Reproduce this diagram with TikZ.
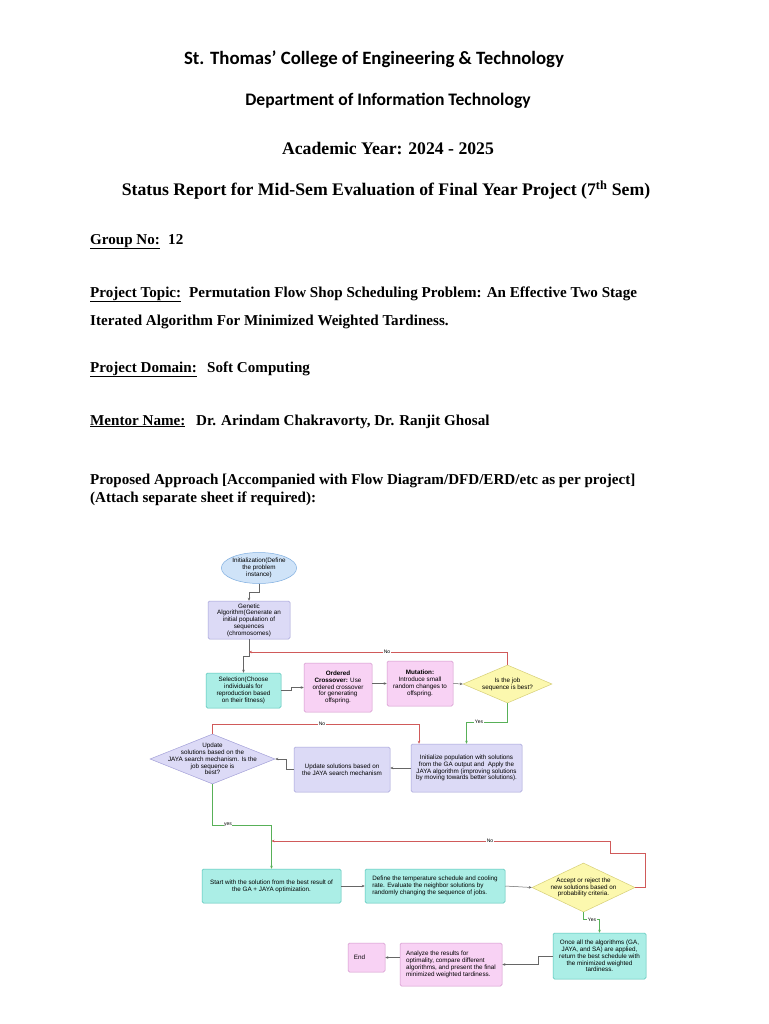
\documentclass[tikz,border=0pt]{standalone}
\usepackage{fontspec}
\setmainfont{Liberation Serif}
\newfontfamily\headfont{Carlito}
\newfontfamily\fcfont{Liberation Sans}
\usetikzlibrary{shapes.geometric,arrows.meta,calc}
\definecolor{bluefill}{HTML}{CFE3F8}
\definecolor{blueline}{HTML}{7FAEE0}
\definecolor{lavfill}{HTML}{DCDAF6}
\definecolor{lavline}{HTML}{A3A0D8}
\definecolor{tealfill}{HTML}{ABEEE6}
\definecolor{tealline}{HTML}{52C2B6}
\definecolor{pinkfill}{HTML}{F8D2F4}
\definecolor{pinkline}{HTML}{D394CB}
\definecolor{yelfill}{HTML}{FCF8AE}
\definecolor{yelline}{HTML}{D6CF78}
\definecolor{noline}{HTML}{D05A5A}
\definecolor{yesline}{HTML}{58B058}
\definecolor{grayline}{HTML}{666666}
\begin{document}
\begin{tikzpicture}[x=1pt,y=-1pt,
  head/.style={anchor=base, inner sep=0pt, font=\headfont\bfseries\fontsize{18}{21}\selectfont},
  title/.style={anchor=base, inner sep=0pt, font=\bfseries\fontsize{17.7}{20}\selectfont},
  body/.style={anchor=base west, inner sep=0pt, font=\bfseries\fontsize{15.1}{18}\selectfont},
  fc/.style={font=\fcfont\fontsize{6.3}{6.8}\selectfont, align=center, inner sep=1pt},
  box/.style={fc, draw, rounded corners=1.5pt, line width=0.5pt},
  lavbox/.style={box, fill=lavfill, draw=lavline},
  tealbox/.style={box, fill=tealfill, draw=tealline},
  pinkbox/.style={box, fill=pinkfill, draw=pinkline},
  decision/.style={diamond, draw=yelline, fill=yelfill, line width=0.5pt, inner sep=0pt},
  arr/.style={-{Stealth[length=3pt,width=2.6pt]}, line width=0.5pt},
  grayarr/.style={arr, draw=grayline},
  noarr/.style={arr, draw=noline},
  yesarr/.style={arr, draw=yesline},
  lab/.style={font=\fcfont\fontsize{5}{6}\selectfont, fill=white, inner sep=0.5pt}
]
\useasboundingbox[fill=white] (0,0) rectangle (768,1024);

% ---------- header ----------
\node[head, font=\headfont\bfseries\fontsize{18.8}{21}\selectfont] (t1) at (374,65) {St. Thomas’ College of Engineering \& Technology};
\node[head, font=\headfont\bfseries\fontsize{17.6}{21}\selectfont] (t2) at (388,106) {Department of Information Technology};
\node[title] (t3) at (388,155) {Academic Year: 2024 - 2025};
\node[title] (t4) at (386,196) {Status Report for Mid-Sem Evaluation of Final Year Project (7\textsuperscript{th} Sem)};

\node[body] (g1) at (90,244) {\underline{Group No:}};
\node[body] (g2) at (168,244) {12};
\node[body] (p1) at (90,297) {\underline{Project Topic:}};
\node[body] (p2) at (189,297) {Permutation Flow Shop Scheduling Problem: An Effective Two Stage};
\node[body] (p3) at (90,325) {Iterated Algorithm For Minimized Weighted Tardiness.};
\node[body] (d1) at (90,372) {\underline{Project Domain:}};
\node[body] (d2) at (207,372) {Soft Computing};
\node[body] (m1) at (90,425) {\underline{Mentor Name:}};
\node[body] (m2) at (196,425) {Dr. Arindam Chakravorty, Dr. Ranjit Ghosal};
\node[body] (a1) at (90,484) {Proposed Approach [Accompanied with Flow Diagram/DFD/ERD/etc as per project]};
\node[body] (a2) at (90,502) {(Attach separate sheet if required):};

% ---------- flowchart ----------
\node[fc, ellipse, draw=blueline, fill=bluefill, line width=0.5pt, minimum width=68pt, minimum height=31pt, inner sep=0pt] (init) at (259,568)
  {Initialization(Define\\the problem\\instance)};
\node[lavbox, minimum width=82pt, minimum height=38pt] (ga) at (249,620)
  {Genetic\\Algorithm(Generate an\\initial population of\\sequences\\(chromosomes)};
\node[tealbox, minimum width=75pt, minimum height=35pt] (sel) at (243.5,690.5)
  {Selection(Choose\\individuals for\\reproduction based\\on their fitness)};
\node[pinkbox, minimum width=68pt, minimum height=49pt] (cross) at (338,687.5)
  {\textbf{Ordered}\\\textbf{Crossover:} Use\\ordered crossover\\for generating\\offspring.};
\node[pinkbox, minimum width=66pt, minimum height=45pt] (mut) at (420,683.5)
  {\textbf{Mutation:}\\Introduce small\\random changes to\\offspring.};
\node[decision, minimum width=89pt, minimum height=38pt] (dec1) at (507.5,684) {};
\node[fc] (dec1t) at (507.5,684) {Is the job\\sequence is best?};

\node[lavbox, minimum width=111pt, minimum height=48pt] (jinit) at (466.5,768)
  {Initialize population with solutions\\from the GA output and~ Apply the\\JAYA algorithm (improving solutions\\by moving towards better solutions).};
\node[lavbox, minimum width=96pt, minimum height=45pt] (upd) at (342,769.5)
  {Update solutions based on\\the JAYA search mechanism};
\node[diamond, draw=lavline, fill=lavfill, line width=0.5pt, inner sep=0pt, minimum width=125pt, minimum height=50pt] (dec2) at (212.5,759) {};
\node[fc] (dec2t) at (212.5,759) {Update\\solutions based on the\\JAYA search mechanism. Is the\\job sequence is\\best?};

\node[tealbox, minimum width=139pt, minimum height=34pt] (start) at (271.5,886)
  {Start with the solution from the best result of\\the GA + JAYA optimization.};
\node[tealbox, minimum width=140pt, minimum height=34pt, align=left] (def) at (435,886)
  {Define the temperature schedule and cooling\\rate. Evaluate the neighbor solutions by\\randomly changing the sequence of jobs.};
\node[decision, minimum width=103pt, minimum height=49pt] (dec3) at (583.5,887.5) {};
\node[fc] (dec3t) at (583.5,887.5) {Accept or reject the\\new solutions based on\\probability criteria.};

\node[tealbox, minimum width=93pt, minimum height=46pt] (once) at (599.5,956)
  {Once all the algorithms (GA,\\JAYA, and SA) are applied,\\return the best schedule with\\the minimized weighted\\tardiness.};
\node[pinkbox, minimum width=102pt, minimum height=43pt, align=left] (ana) at (451,964.5)
  {Analyze the results for\\optimality, compare different\\algorithms, and present the final\\minimized weighted tardiness.};
\node[pinkbox, minimum width=37pt, minimum height=29pt, align=left] (end) at (366.5,957.5)
  {End\hspace*{14pt}};

% connectors
\draw[grayarr] (init.south) -- (init.south |- 0,592) -| (ga.north);
\draw[grayarr] (ga.south) -- (ga.south |- 0,656) -| (sel.north);
\draw[noarr] (dec1.north) -- (dec1.north |- 0,652) -- (ga.south |- 0,652);
\node[lab] (no1) at (387,652) {No};
\draw[grayarr] (sel.east) -- ++(10,0) |- (cross.west);
\draw[grayarr] (cross.east |- mut.west) -- (mut.west);
\draw[grayarr] (mut.east) -- (dec1.west);
\draw[yesarr] (dec1.south) -- (dec1.south |- 0,722) -| (jinit.north);
\node[lab] (yes1) at (479,722) {Yes};

\coordinate (jn) at (419,0 |- jinit.north);
\draw[noarr] (dec2.north) -- (dec2.north |- 0,724) -| (jn);
\node[lab] (no2) at (322,724) {No};
\draw[grayarr] (jinit.west) -- (upd.east |- jinit.west);
\draw[grayarr] (upd.west) -- ++(-8,0) |- (dec2.east);
\draw[yesarr] (dec2.south) -- (dec2.south |- 0,825) -| (start.north);
\node[lab] (yes2) at (228,825) {yes};

\draw[noarr] (dec3.east) -- (645,887.5) -- (645,853) -- (610,853) -- (610,841) -- (start.north |- 0,841);
\node[lab] (no3) at (490,841) {No};
\draw[grayarr] (start.east) -- (def.west);
\draw[grayarr] (def.east) -- (dec3.west);
\draw[yesarr] (dec3.south) -- (dec3.south |- 0,919) -| (once.north);
\node[lab] (yes3) at (592,920) {Yes};
\draw[grayarr] (once.west) -- ++(-15,0) |- (ana.east);
\draw[grayarr] (ana.west |- end.east) -- (end.east);
\end{tikzpicture}
\end{document}
